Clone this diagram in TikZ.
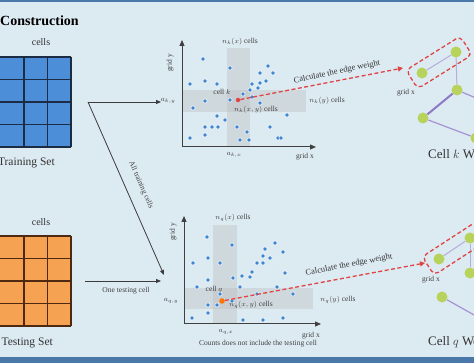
\documentclass[tikz,border=0pt]{standalone}
\usepackage{fontspec}
\setmainfont{Liberation Serif}
\usetikzlibrary{arrows.meta}
\definecolor{bg}{HTML}{DCEAF2}
\definecolor{barblue}{HTML}{4A78A8}
\definecolor{cellblue}{HTML}{4C8FD8}
\definecolor{gridnavy}{HTML}{1C2C44}
\definecolor{cellorange}{HTML}{F5A352}
\definecolor{gridbrown}{HTML}{4E2810}
\definecolor{dotblue}{HTML}{3F86D0}
\definecolor{greennode}{HTML}{B8D35C}
\definecolor{lav}{HTML}{B4AEDC}
\definecolor{purp}{HTML}{8E78C8}
\definecolor{redd}{HTML}{E04444}
\definecolor{bandgray}{HTML}{B8B8B8}
\definecolor{arrowgray}{HTML}{3C3C3C}
\begin{document}
\begin{tikzpicture}[x=1pt,y=-1pt,
  tiny/.style={font=\fontsize{7.5}{8}\selectfont, inner sep=0pt, text=black!75},
  small/.style={font=\fontsize{8.5}{9}\selectfont, inner sep=0pt, text=black!80},
  flowarrow/.style={draw=arrowgray, line width=0.8pt, -{Triangle[length=5pt,width=4pt]}},
  axis/.style={draw=black!75, line width=1pt, -{Triangle[length=6pt,width=5pt]}},
  band/.style={fill=bandgray, fill opacity=0.35},
  dot/.style={circle, fill=dotblue, draw=white, line width=0.5pt, inner sep=0pt, minimum size=4.2pt},
  gnode/.style={circle, fill=greennode, inner sep=0pt, minimum size=11pt},
  weightline/.style={draw=redd, dash pattern=on 4pt off 2.5pt, line width=1.3pt, -{Triangle[length=5pt,width=5pt]}},
  selbox/.style={draw=redd, dash pattern=on 4pt off 2.5pt, line width=1.3pt, rounded corners=5pt, minimum width=64pt, minimum height=22pt},
  thinedge/.style={draw=lav, line width=1pt},
  thickedge/.style={draw=purp, line width=2pt},
  medge/.style={draw=purp!80, line width=1.2pt},
  bigtext/.style={font=\fontsize{13}{15}\selectfont, inner sep=0pt, text=black!80}
]
\useasboundingbox (0,0) rectangle (474,363);
\clip (0,0) rectangle (474,363);
\fill[bg] (0,0) rectangle (474,363);
\fill[barblue] (0,0) rectangle (474,2);
\fill[barblue] (0,357) rectangle (474,363);

% title
\node[anchor=west, font=\bfseries\fontsize{14}{16}\selectfont, inner sep=0pt] (title) at (0,21) {Construction};

% training grid
\node[font=\fontsize{10}{11}\selectfont, inner sep=0pt, text=black!80] (trcells) at (41,42) {cells};
\fill[cellblue] (-1,57) rectangle (71,147);
\foreach \x in {24,47.5,71} \draw[gridnavy, line width=1.4pt] (\x,57) -- (\x,147);
\foreach \y in {57,79.5,102,124.5,147} \draw[gridnavy, line width=1.4pt] (-1,\y) -- (71,\y);
\node[anchor=east, font=\fontsize{11.5}{13}\selectfont, inner sep=0pt, text=black!80] (trset) at (55,163) {Training Set};

% testing grid
\node[font=\fontsize{10}{11}\selectfont, inner sep=0pt, text=black!80] (tecells) at (41,222) {cells};
\fill[cellorange] (-1,236) rectangle (71,326);
\foreach \x in {24,47.5,71} \draw[gridbrown, line width=1.4pt] (\x,236) -- (\x,326);
\foreach \y in {236,258.5,281,303.5,326} \draw[gridbrown, line width=1.4pt] (-1,\y) -- (71,\y);
\node[anchor=east, font=\fontsize{11.5}{13}\selectfont, inner sep=0pt, text=black!80] (teset) at (53,343) {Testing Set};

% flow arrows
\coordinate (split) at (88,102);
\coordinate (topend) at (161,102);
\coordinate (diagend) at (164,275);
\coordinate (tstart) at (85,281);
\coordinate (tend) at (161,281);
\draw[flowarrow] (split) -- (topend);
\draw[flowarrow] (split) -- (diagend);
\draw[flowarrow] (tstart) -- (tend);
\node[tiny, rotate=-66] (alltr) at (141,185) {All training cells};
\node[tiny] (onetest) at (126,291) {One testing cell};

% ---------- top plot ----------
\coordinate (o1) at (182,147);
\coordinate (y1) at (182,40);
\coordinate (x1) at (316,147);
\fill[band] (227,48) rectangle (250,147);
\fill[band] (182,90) rectangle (306,112);
\draw[axis] (o1) -- (y1);
\draw[axis] (o1) -- (x1);
\node[tiny, rotate=90] (gy1) at (170,63) {grid y};
\node[tiny] (gx1) at (305,157) {grid x};
\node[tiny] (tky1) at (168,101) {$a_{k,y}$};
\node[tiny] (tkx1) at (234,155) {$a_{k,x}$};
\node[tiny] (nkx) at (240,42) {$n_k(x)$ cells};
\node[tiny] (cellk) at (222,92) {cell $k$};
\node[tiny] (nkxy) at (256,110) {$n_k(x,y)$ cells};
\node[tiny] (nky) at (327,101) {$n_k(y)$ cells};
\foreach \p in {(203,59),(230,68),(268,66),(260,73),(273,73),(190,84),(205,81),(217,84),(252,84),(260,83),(266,81),(250,90),(258,88),(243,94),(205,101),(230,100),(252,97),(193,108),(260,103),(217,116),(287,115),(225,120),(205,127),(212,127),(218,127),(237,127),(270,127),(205,135),(190,138),(247,132),(278,138),(240,140),(249,140),(281,138)}
  \node[dot] at \p {};
\node[circle, fill=redd, inner sep=0pt, minimum size=4.5pt] (ck) at (238,100) {};

% top graph
\node[gnode] (g1) at (422,73) {};
\node[gnode] (g2) at (456,52) {};
\node[gnode] (g3) at (457,90) {};
\node[gnode] (g4) at (423,118) {};
\node[gnode] (g5) at (476,138) {};
\coordinate (g3r) at (476,98);
\draw[thinedge] (g1) -- (g2);
\draw[thinedge] (g2) -- (g3);
\draw[thickedge] (g3) -- (g4);
\draw[medge] (g3) -- (g3r);
\draw[medge] (g4) -- (g5);
\node[selbox, rotate=32] (boxk) at (439,62.5) {};
\coordinate (wk) at (403,68);
\draw[weightline] (ck) -- (wk);
\node[small, rotate=12] (calck) at (337,72) {Calculate the edge weight};
\node[tiny] (gxk) at (406,93) {grid x};
\node[anchor=west, bigtext] (cellkw) at (428,155) {Cell $k$ Weighted Graph};

% ---------- bottom plot ----------
\coordinate (o2) at (184,324);
\coordinate (y2) at (184,216);
\coordinate (x2) at (321,324);
\fill[band] (213,225) rectangle (237,324);
\fill[band] (184,288) rectangle (313,309);
\draw[axis] (o2) -- (y2);
\draw[axis] (o2) -- (x2);
\node[tiny, rotate=90] (gy2) at (173,232) {grid y};
\node[tiny] (gx2) at (311,336) {grid x};
\node[tiny] (tky2) at (171,301) {$a_{q,y}$};
\node[tiny] (tkx2) at (226,332) {$a_{q,x}$};
\node[tiny] (nqx) at (233,218) {$n_q(x)$ cells};
\node[tiny] (cellq) at (214,290) {cell $q$};
\node[tiny] (nqxy) at (251,305) {$n_q(x,y)$ cells};
\node[tiny] (nqy) at (338,300) {$n_q(y)$ cells};
\node[tiny] (counts) at (258,344) {Counts does not include the testing cell};
\foreach \p in {(207,237),(232,245),(275,243),(265,249),(270,258),(263,256),(193,263),(208,258),(220,263),(257,263),(263,263),(252,272),(242,276),(233,278),(250,277),(208,280),(285,273),(197,287),(240,287),(277,287),(257,294),(293,294),(220,294),(208,305),(217,305),(232,301),(208,313),(192,318),(243,320),(263,320),(283,318),(283,252)}
  \node[dot] at \p {};
\node[circle, fill=orange!90!red, inner sep=0pt, minimum size=5.5pt] (cq) at (222,301) {};

% bottom graph
\node[gnode] (h1) at (439,259) {};
\node[gnode] (h2) at (470,238) {};
\node[gnode] (h3) at (470,273) {};
\node[gnode] (h4) at (442,297) {};
\coordinate (h4r) at (476,316);
\draw[thinedge] (h1) -- (h2);
\draw[thinedge] (h2) -- (h3);
\draw[medge] (h4) -- (h4r);
\node[selbox, rotate=33] (boxq) at (455,248.5) {};
\coordinate (wq) at (425,263);
\draw[weightline] (cq) -- (wq);
\node[small, rotate=11] (calcq) at (349,265) {Calculate the edge weight};
\node[tiny] (gxq) at (431,280) {grid x};
\node[anchor=west, bigtext] (cellqw) at (428,342) {Cell $q$ Weighted Graph};
\end{tikzpicture}
\end{document}
